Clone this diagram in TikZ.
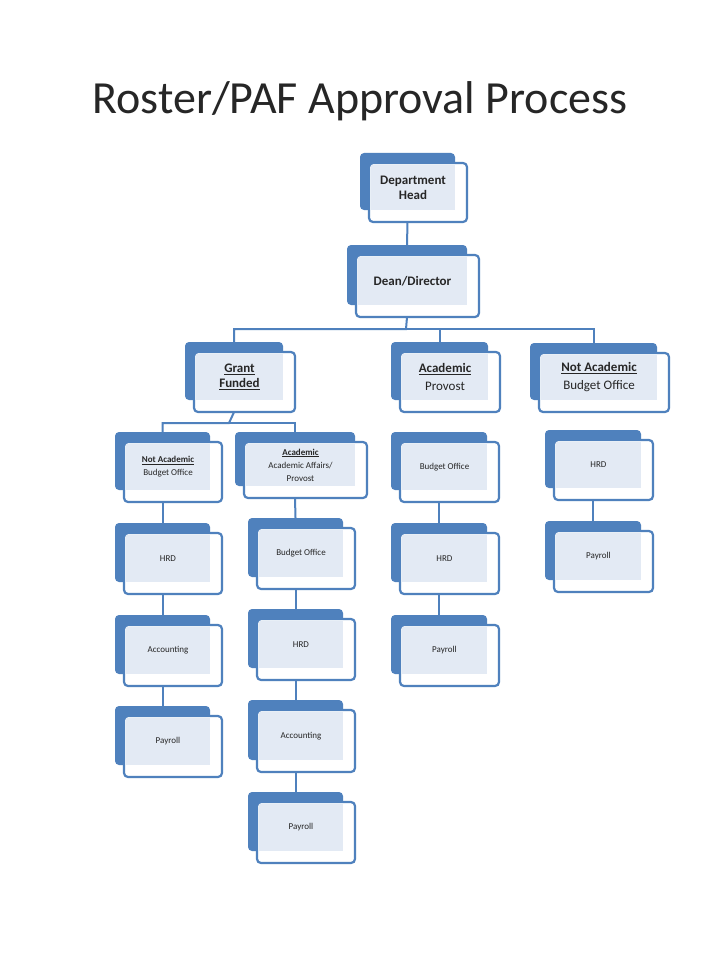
\documentclass[tikz,border=0pt]{standalone}
\usepackage{fontspec}
\setmainfont{Carlito}
\usetikzlibrary{fit}
\definecolor{bl}{HTML}{4F81BD}
\definecolor{lt}{HTML}{E3EAF4}
\tikzset{
 bk/.style={fill=bl,rounded corners=4pt},
 fr/.style={draw=bl,line width=2.2pt,fill=white,rounded corners=4pt},
 ln/.style={draw=bl,line width=2pt},
 tx/.style={align=center,inner sep=0,text=black!85},
}
\newcommand{\cb}[7]{%
 \fill[bk] (#2,#3) rectangle (#4,#5);
 \node[inner sep=0,fit={(#2,#3)(#4,#5)}] (#1b) {};
 \draw[fr] ({#2+9},{#3+10}) rectangle ({#4+12},{#5+12});
 \node[inner sep=0,fit={({#2+9},{#3+10})({#4+12},{#5+12})}] (#1f) {};
 \fill[lt] ({#2+11},{#3+12}) rectangle (#4,#5);
 \node[tx,font=#7] (#1t) at ({(#2+#4+11)/2},{(#3+#5+12)/2}) {#6};
}
\begin{document}
\begin{tikzpicture}[x=1pt,y=-1pt]
\useasboundingbox[fill=white] (0,0) rectangle (720,960);
\node[font=\fontsize{46}{50}\selectfont,text=black!85] (title) at (360,101) {Roster/PAF Approval Process};
% connectors (drawn first)
\coordinate (bus) at (406,329);
\coordinate (bus2) at (229,423);
\cb{dh}{360}{153}{455}{210}{\textbf{Department}\\\textbf{Head}}{\fontsize{13}{15}\selectfont}
\cb{dean}{347}{245}{467}{305}{\textbf{Dean/Director}}{\fontsize{13}{15}\selectfont}
\cb{gf}{185}{342}{283}{400}{\textbf{\underline{Grant}}\\\textbf{\underline{Funded}}}{\fontsize{13}{15}\selectfont}
\cb{ac}{391}{342}{488}{400}{\textbf{\underline{Academic}}\\[2pt]Provost}{\fontsize{13}{16}\selectfont}
\cb{na}{530}{343}{657}{400}{\textbf{\underline{Not Academic}}\\[2pt]Budget Office}{\fontsize{13}{16}\selectfont}
\cb{a1}{115}{432}{210}{490}{\textbf{\underline{Not Academic}}\\[1pt]Budget Office}{\fontsize{9}{12}\selectfont}
\cb{a2}{115}{523}{210}{582}{HRD}{\fontsize{9}{11}\selectfont}
\cb{a3}{115}{615}{210}{674}{Accounting}{\fontsize{9}{11}\selectfont}
\cb{a4}{115}{706}{210}{765}{Payroll}{\fontsize{9}{11}\selectfont}
\cb{b1}{235}{432}{355}{486}{\textbf{\underline{Academic}}\\[1pt]Academic Affairs/\\[1pt]Provost}{\fontsize{9}{12}\selectfont}
\cb{b2}{248}{518}{343}{577}{Budget Office}{\fontsize{9}{11}\selectfont}
\cb{b3}{248}{609}{343}{668}{HRD}{\fontsize{9}{11}\selectfont}
\cb{b4}{248}{700}{343}{760}{Accounting}{\fontsize{9}{11}\selectfont}
\cb{b5}{248}{792}{343}{851}{Payroll}{\fontsize{9}{11}\selectfont}
\cb{c1}{391}{432}{487}{490}{Budget Office}{\fontsize{9}{11}\selectfont}
\cb{c2}{391}{523}{487}{582}{HRD}{\fontsize{9}{11}\selectfont}
\cb{c3}{391}{615}{487}{674}{Payroll}{\fontsize{9}{11}\selectfont}
\cb{d1}{545}{430}{641}{488}{HRD}{\fontsize{9}{11}\selectfont}
\cb{d2}{545}{521}{641}{580}{Payroll}{\fontsize{9}{11}\selectfont}
% connectors
\draw[ln] (dhb |- dhf.south) -- (deanb.north);
\draw[ln] (deanb |- deanf.south) -- (bus) -| (gfb.north);
\draw[ln] (bus) -- (bus -| acb) -- (acb.north);
\draw[ln] (bus) -| (nab.north);
\draw[ln] (gfb |- gff.south) -- (bus2) -| (a1b.north);
\draw[ln] (bus2) -| (b1b.north);
\foreach \p/\q in {a1/a2,a2/a3,a3/a4,b1/b2,b2/b3,b3/b4,b4/b5,c1/c2,c2/c3,d1/d2}{
 \draw[ln] (\p b |- \p f.south) -- (\q b.north);
}
\end{tikzpicture}
\end{document}
